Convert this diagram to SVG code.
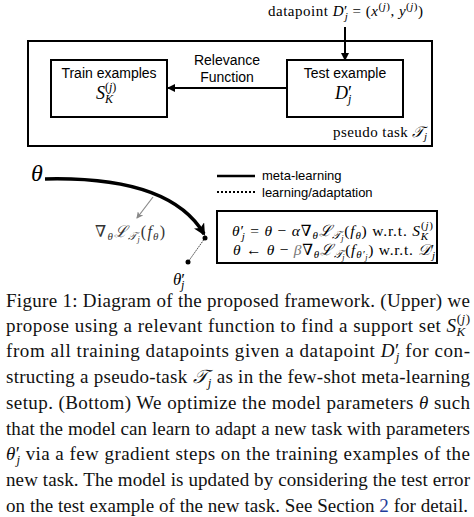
<svg xmlns="http://www.w3.org/2000/svg" width="474" height="517" viewBox="0 0 474 517">
<style>
.sans{font-family:"Liberation Sans",Arial,sans-serif}
.serif{font-family:"Liberation Serif","Times New Roman","DejaVu Serif",serif}
.it{font-style:italic}
.box{fill:none;stroke:#000;stroke-width:2}
.cap{font-family:"Liberation Serif","Times New Roman",serif;font-size:19px;fill:#111}
</style>
<defs>
<marker id="ah" markerWidth="8" markerHeight="8" refX="7" refY="4" orient="auto" markerUnits="userSpaceOnUse">
<path d="M0,0 L8,4 L0,8 Z" fill="#000"/>
</marker>
<marker id="ahg" markerWidth="7" markerHeight="7" refX="6" refY="3.5" orient="auto" markerUnits="userSpaceOnUse">
<path d="M0,0 L7,3.5 L0,7 L2,3.5 Z" fill="#888"/>
</marker>
<marker id="ahb" markerWidth="12" markerHeight="12" refX="10" refY="6" orient="auto" markerUnits="userSpaceOnUse">
<path d="M0,0 L12,6 L0,12 L3,6 Z" fill="#000"/>
</marker>
</defs>
<rect width="474" height="517" fill="#fff"/>

<g id="pseudo-task">
<rect class="box" x="28" y="41" width="404" height="105"/>
<text x="333" y="137" class="serif" font-size="15" textLength="94" lengthAdjust="spacing">pseudo task <tspan class="it">𝒯</tspan><tspan class="it" font-size="11" dy="3">j</tspan></text>
</g>

<g id="datapoint">
<text x="268" y="16" class="serif" font-size="15" textLength="155" lengthAdjust="spacing">datapoint <tspan class="it">D</tspan>′<tspan class="it" font-size="11" dx="-3" dy="4">j</tspan><tspan dy="-4"> = (</tspan><tspan class="it">x</tspan><tspan font-size="11" dy="-6">(<tspan class="it">j</tspan>)</tspan><tspan dy="6">, </tspan><tspan class="it">y</tspan><tspan font-size="11" dy="-6">(<tspan class="it">j</tspan>)</tspan><tspan dy="6">)</tspan></text>
</g>

<g id="train">
<rect class="box" x="51" y="60" width="116" height="57"/>
<text x="109" y="78" class="sans" font-size="14" text-anchor="middle">Train examples</text>
<text x="96" y="99" class="serif" font-size="18"><tspan class="it">S</tspan><tspan class="it" font-size="12" dy="4">K</tspan><tspan font-size="12" dx="-8" dy="-12">(<tspan class="it">j</tspan>)</tspan></text>
</g>

<g id="test">
<rect class="box" x="287" y="60" width="116" height="57"/>
<text x="345" y="78" class="sans" font-size="14" text-anchor="middle">Test example</text>
<text x="335" y="99" class="serif" font-size="18"><tspan class="it">D</tspan>′<tspan class="it" font-size="12" dx="-4" dy="4">j</tspan></text>
</g>

<g id="relevance-label">
<text x="227" y="65" class="sans" font-size="14" text-anchor="middle">Relevance</text>
<text x="227" y="82" class="sans" font-size="14" text-anchor="middle">Function</text>
</g>

<g id="legend">
<line x1="217" y1="176" x2="255" y2="176" stroke="#000" stroke-width="2.5"/>
<text x="262" y="180" class="sans" font-size="13">meta-learning</text>
<line x1="217" y1="192" x2="255" y2="192" stroke="#000" stroke-width="2" stroke-dasharray="2,2"/>
<text x="262" y="197" class="sans" font-size="13">learning/adaptation</text>
</g>

<g id="theta">
<text x="31" y="181" class="serif it" font-size="24">θ</text>
</g>
<g id="theta-prime">
<circle cx="188" cy="262" r="2.5" fill="#000"/>
<text x="173" y="285" class="serif" font-size="17"><tspan class="it">θ</tspan>′<tspan class="it" font-size="12" dx="-4" dy="4">j</tspan></text>
</g>
<g id="theta-adapt-point">
<circle cx="205" cy="238" r="2.5" fill="#000"/>
</g>
<g id="gradient-label">
<text x="95" y="237" class="serif" font-size="16" fill="#333" textLength="70" lengthAdjust="spacing">∇<tspan class="it" font-size="11" dy="3">θ</tspan><tspan class="it" dy="-3">ℒ</tspan><tspan class="it" font-size="11" dy="3">𝒯</tspan><tspan class="it" font-size="8" dy="2">j</tspan><tspan dy="-5">(</tspan><tspan class="it">f</tspan><tspan class="it" font-size="11" dy="3">θ</tspan><tspan dy="-3">)</tspan></text>
</g>

<g id="update-box">
<rect class="box" x="217" y="211" width="220" height="52"/>
<text x="232" y="236" class="serif" font-size="15.5" textLength="201" lengthAdjust="spacing"><tspan class="it">θ</tspan>′<tspan class="it" font-size="11" dx="-3" dy="4">j</tspan><tspan dy="-4"> = </tspan><tspan class="it">θ</tspan> − <tspan class="it">α</tspan>∇<tspan class="it" font-size="11" dy="3">θ</tspan><tspan class="it" dy="-3">ℒ</tspan><tspan class="it" font-size="11" dy="3">𝒯</tspan><tspan class="it" font-size="8" dy="2">j</tspan><tspan dy="-5">(</tspan><tspan class="it">f</tspan><tspan class="it" font-size="11" dy="3">θ</tspan><tspan dy="-3">) w.r.t. </tspan><tspan class="it">S</tspan><tspan class="it" font-size="11" dy="4">K</tspan><tspan font-size="11" dx="-8" dy="-11">(<tspan class="it">j</tspan>)</tspan></text>
<text x="233" y="255" class="serif" font-size="15.5" textLength="202" lengthAdjust="spacing"><tspan class="it">θ</tspan> ← <tspan class="it">θ</tspan> − <tspan class="it" fill="#777">β</tspan>∇<tspan class="it" font-size="11" dy="3">θ</tspan><tspan class="it" dy="-3">ℒ</tspan><tspan class="it" font-size="11" dy="3">𝒯</tspan><tspan class="it" font-size="8" dy="2">j</tspan><tspan dy="-5">(</tspan><tspan class="it">f</tspan><tspan class="it" font-size="11" dy="3">θ′</tspan><tspan class="it" font-size="8" dy="2">j</tspan><tspan dy="-5">) w.r.t. </tspan><tspan class="it">𝒟</tspan>′<tspan class="it" font-size="11" dx="-3" dy="4">j</tspan></text>
</g>

<g id="connectors">
<line x1="287" y1="88" x2="168" y2="88" stroke="#000" stroke-width="2" marker-end="url(#ah)"/>
<line x1="345" y1="27" x2="345" y2="60" stroke="#000" stroke-width="2" marker-end="url(#ah)"/>
<path d="M45,179 Q170,176 204,234" fill="none" stroke="#000" stroke-width="3.5" marker-end="url(#ahb)"/>
<line x1="205" y1="238" x2="188" y2="262" stroke="#000" stroke-width="0.8" stroke-dasharray="1.5,1"/>
<line x1="153" y1="197" x2="137" y2="218" stroke="#888" stroke-width="1.2" marker-end="url(#ahg)"/>
</g>

<g id="caption">
<text class="cap" x="6" y="307" textLength="464" lengthAdjust="spacing">Figure 1: Diagram of the proposed framework. (Upper) we</text>
<text class="cap" x="6" y="332" textLength="464" lengthAdjust="spacing">propose using a relevant function to find a support set <tspan class="it">S</tspan><tspan class="it" font-size="13" dy="4">K</tspan><tspan font-size="13" dx="-9" dy="-13">(<tspan class="it">j</tspan>)</tspan></text>
<text class="cap" x="6" y="357" textLength="464" lengthAdjust="spacing">from all training datapoints given a datapoint <tspan class="it">D</tspan>′<tspan class="it" font-size="13" dx="-4" dy="4">j</tspan><tspan dy="-4"> for con-</tspan></text>
<text class="cap" x="6" y="383" textLength="464" lengthAdjust="spacing">structing a pseudo-task <tspan class="it">𝒯</tspan><tspan class="it" font-size="13" dy="4">j</tspan><tspan dy="-4"> as in the few-shot meta-learning</tspan></text>
<text class="cap" x="6" y="409" textLength="464" lengthAdjust="spacing">setup. (Bottom) We optimize the model parameters <tspan class="it">θ</tspan> such</text>
<text class="cap" x="6" y="435" textLength="464" lengthAdjust="spacing">that the model can learn to adapt a new task with parameters</text>
<text class="cap" x="6" y="460" textLength="464" lengthAdjust="spacing"><tspan class="it">θ</tspan>′<tspan class="it" font-size="13" dx="-4" dy="4">j</tspan><tspan dy="-4"> via a few gradient steps on the training examples of the</tspan></text>
<text class="cap" x="6" y="486" textLength="464" lengthAdjust="spacing">new task. The model is updated by considering the test error</text>
<text class="cap" x="6" y="512" textLength="462" lengthAdjust="spacing">on the test example of the new task. See Section <tspan fill="#1f3c99">2</tspan> for detail.</text>
</g>
</svg>
